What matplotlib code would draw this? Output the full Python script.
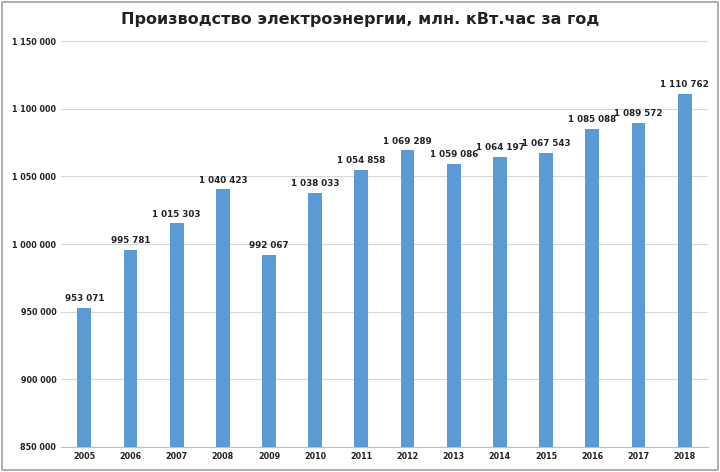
import matplotlib.pyplot as plt
from matplotlib.ticker import FuncFormatter

years = ["2005", "2006", "2007", "2008", "2009", "2010", "2011",
         "2012", "2013", "2014", "2015", "2016", "2017", "2018"]
values = [953071, 995781, 1015303, 1040423, 992067, 1038033, 1054858,
          1069289, 1059086, 1064197, 1067543, 1085088, 1089572, 1110762]

def sp(v, pos=None):
    return f"{int(v):,}".replace(",", " ")

fig = plt.figure(figsize=(7.2, 4.72), dpi=100)
ax = fig.add_axes([0.085, 0.053, 0.898, 0.86])
x = range(len(years))
ax.bar(x, values, width=0.3, color="#5B9BD5", zorder=3)
for i, v in zip(x, values):
    ax.text(i, v + 3500, sp(v), ha="center", va="bottom", fontsize=6.3,
            fontweight="bold", color="#222222")

ax.set_ylim(850000, 1150000)
ax.set_yticks(range(850000, 1150001, 50000))
ax.yaxis.set_major_formatter(FuncFormatter(sp))
ax.set_xlim(-0.5, len(years) - 0.5)
ax.set_xticks(list(x))
ax.set_xticklabels(years)
ax.tick_params(axis="both", labelsize=5.8, length=0, colors="#222222")
for t in ax.get_xticklabels() + ax.get_yticklabels():
    t.set_fontweight("bold")
ax.grid(axis="y", color="#d9d9d9", linewidth=0.8, zorder=0)
for s in ["top", "right", "left"]:
    ax.spines[s].set_visible(False)
ax.spines["bottom"].set_color("#bfbfbf")

fig.suptitle("Производство электроэнергии, млн. кВт.час за год", y=0.975,
             fontsize=11.5, fontweight="bold", color="#222222")
fig.patches.append(plt.Rectangle((0.003, 0.004), 0.994, 0.992,
                                 transform=fig.transFigure, fill=False,
                                 edgecolor="#a0a0a0", linewidth=1.2))
fig.savefig("out.png")
